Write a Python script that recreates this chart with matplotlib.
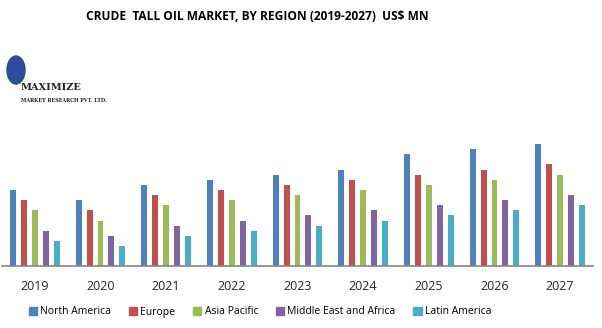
import matplotlib.pyplot as plt
import matplotlib.patches as mpatches
import numpy as np

years = ["2019", "2020", "2021", "2022", "2023", "2024", "2025", "2026", "2027"]
regions = ["North America", "Europe", "Asia Pacific", "Middle East and Africa", "Latin America"]
north_america = [76, 66, 81, 86, 91, 96, 112, 117, 122]
europe = [66, 56, 71, 76, 81, 86, 91, 96, 102]
asia_pacific = [56, 45, 61, 66, 71, 76, 81, 86, 91]
middle_east_africa = [35, 30, 40, 45, 51, 56, 61, 66, 71]
latin_america = [25, 20, 30, 35, 40, 45, 51, 56, 61]
colors = ["#4F81BD", "#C0504D", "#9BBB59", "#8064A2", "#4BACC6"]

series = [north_america, europe, asia_pacific, middle_east_africa, latin_america]

fig = plt.figure(figsize=(6.02, 3.28), dpi=100)
ax = fig.add_axes([2 / 602, 1 - 266.3 / 328, 591 / 602, 226.3 / 328])

x = np.arange(len(years))
step = 11 / 66
for i, (vals, c) in enumerate(zip(series, colors)):
    ax.bar(x + (i - 2) * step, vals, width=6 / 66, color=c, label=regions[i])

ax.set_xlim(-0.5, len(years) - 0.5)
ax.set_ylim(0, 226.3)
for s in ["top", "right", "left"]:
    ax.spines[s].set_visible(False)
ax.spines["bottom"].set_color("#868686")
ax.spines["bottom"].set_linewidth(1.2)
ax.set_yticks([])
ax.set_xticks(x)
ax.set_xticklabels(years, fontsize=9, family="Open Sans", color="#262626")
ax.tick_params(axis="x", length=0, pad=10)

fig.text(257 / 602, 1 - 17 / 328, "CRUDE  TALL OIL MARKET, BY REGION (2019-2027)  US$ MN",
         ha="center", va="center", fontsize=8.6, fontweight="bold", family="Open Sans")

# logo
globe = mpatches.Ellipse((16 / 602, 1 - 70 / 328), 18 / 602, 28 / 328, transform=fig.transFigure,
                         color="#2B4C9B")
fig.patches.append(globe)
fig.text(21 / 602, 1 - 88 / 328, "MAXIMIZE", fontsize=7, family="DejaVu Serif", fontweight="bold",
         va="center", ha="left", color="#222222")
fig.text(21 / 602, 1 - 100 / 328, "MARKET RESEARCH PVT. LTD.", fontsize=3.5, family="DejaVu Serif",
         fontweight="bold", va="center", ha="left", color="#222222")

handles = [mpatches.Patch(color=c) for c in colors]
fig.legend(handles, regions, loc="center", bbox_to_anchor=(260 / 602, 1 - 312 / 328), ncol=5,
           frameon=False, prop={"family": "Open Sans", "size": 7.5}, handlelength=0.8,
           handleheight=0.8, handletextpad=0.3, columnspacing=1.7)

fig.savefig("out.png", dpi=100)
